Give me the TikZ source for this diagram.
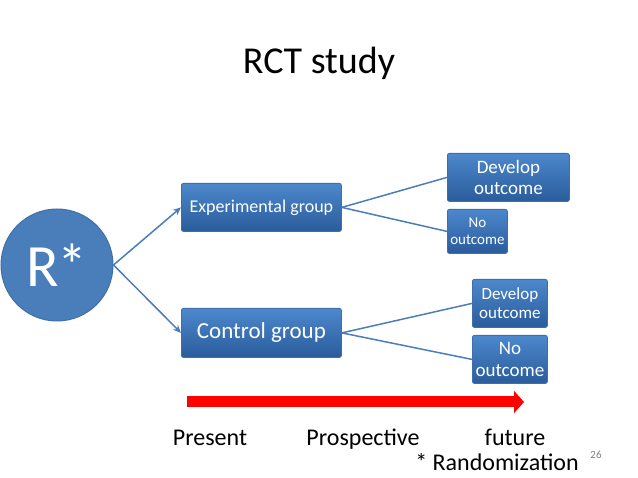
\documentclass[tikz,border=0pt]{standalone}
\usepackage{fontspec}
\setmainfont{Carlito}
\usetikzlibrary{arrows.meta}
\definecolor{bt}{HTML}{4C88CC}
\definecolor{bb}{HTML}{2A5C9C}
\definecolor{bd}{HTML}{3F6FA8}
\definecolor{ln}{HTML}{4A7EBB}
\begin{document}
\begin{tikzpicture}[x=1pt,y=-1pt,
  box/.style={draw=bd,line width=0.8pt,rounded corners=2pt,top color=bt,bottom color=bb,text=white,align=center,inner sep=1pt,anchor=north west},
  con/.style={draw=ln,line width=1.5pt},
  lab/.style={font=\fontsize{24}{28}\selectfont,anchor=base}]
\useasboundingbox (0,0) rectangle (638,478);
\node[font=\fontsize{38}{42}\selectfont,anchor=base] (t) at (319,74) {RCT study};
\node[circle,draw=bd,line width=1pt,fill=ln,minimum size=112pt,inner sep=0pt,text=white,font=\fontsize{60}{64}\selectfont] (r) at (57,265) {R\kern-2pt*};
\node[box,minimum width=160pt,minimum height=48pt,font=\fontsize{18}{21}\selectfont] (e) at (181,183) {Experimental group};
\node[box,minimum width=160pt,minimum height=49pt,font=\fontsize{23}{26}\selectfont] (c) at (181,308) {Control group};
\node[box,minimum width=122pt,minimum height=48pt,font=\fontsize{19}{21}\selectfont] (d1) at (447,153) {Develop\\outcome};
\node[box,minimum width=60pt,minimum height=44pt,font=\fontsize{15}{17}\selectfont,inner sep=0pt] (n1) at (447,209) {No\\outcome};
\node[box,minimum width=75pt,minimum height=48pt,font=\fontsize{17}{19}\selectfont] (d2) at (472,279) {Develop\\outcome};
\node[box,minimum width=75pt,minimum height=48pt,font=\fontsize{19}{22}\selectfont] (n2) at (472,335) {No\\outcome};
\draw[con,-{Stealth[length=8pt,width=7pt]}] (r.east) -- (e.west);
\draw[con,-{Stealth[length=8pt,width=7pt]}] (r.east) -- (c.west);
\draw[con] (e.east) -- (d1.west);
\draw[con] (e.east) -- (n1.west);
\draw[con] (c.east) -- (d2.west);
\draw[con] (c.east) -- (n2.west);
\coordinate (a0) at (187,402);
\coordinate (a1) at (524,402);
\draw[red,line width=11pt,-{Triangle[length=10pt,width=22pt]}] (a0) -- (a1);
\node[lab] (p) at (210,446) {Present};
\node[lab] (pr) at (363,446) {Prospective};
\node[lab] (f) at (515,446) {future};
\node[lab] (rz) at (497,471) {* Randomization};
\node[font=\fontsize{11}{13}\selectfont,text=gray] (n) at (596,455) {26};
\end{tikzpicture}
\end{document}
